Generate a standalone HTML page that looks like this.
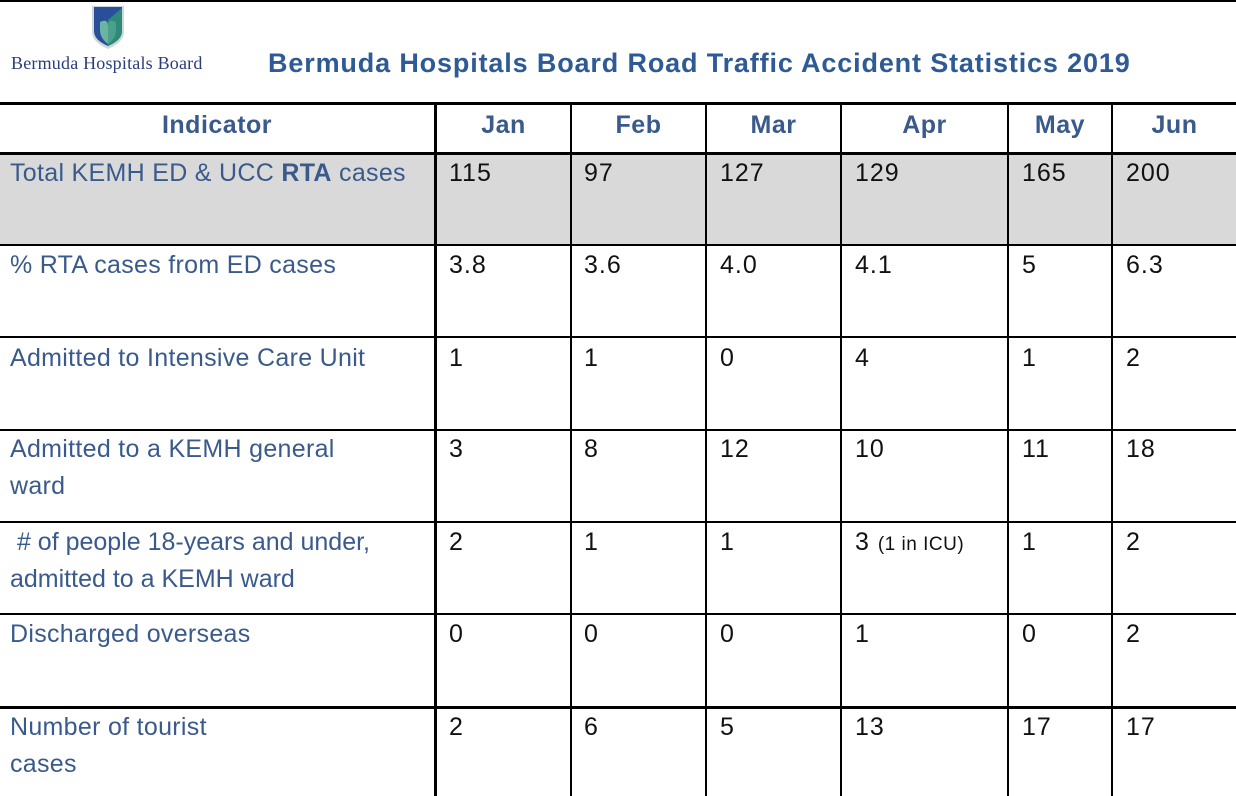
<!DOCTYPE html>
<html><head><meta charset="utf-8"><style>
body{margin:0;width:1236px;height:796px;background:#fff;position:relative;overflow:hidden;font-family:"Liberation Sans",sans-serif}
.a{position:absolute}
.h{position:absolute;background:#000}
.lab{position:absolute;left:10px;color:#3a5a8c;font-size:25px;line-height:37px;letter-spacing:0.3px;white-space:nowrap}
.v{position:absolute;color:#111;font-size:25px;line-height:37px;letter-spacing:1px}
.hd{position:absolute;top:106px;color:#3a5a8c;font-weight:bold;font-size:25px;line-height:38px;text-align:center;letter-spacing:0.5px}
</style></head><body>
<div class="h" style="left:0;top:0;width:1236px;height:2px"></div>
<svg class="a" style="left:90px;top:4px" width="36" height="46" viewBox="0 0 36 46">
<path d="M2 2 H34 V28 Q34 38 18 45 Q2 38 2 28Z" fill="#cfd6dc"/>
<path d="M4 3 H32 V27 Q32 36 18 42 Q4 36 4 27Z" fill="#2a4f9a"/>
<path d="M18 16 L32 4 V27 Q32 36 18 42Z" fill="#2e8a78"/>
<path d="M10 18 Q18 14 18 22 V40 Q10 34 10 26Z" fill="#6ab5a0"/>
<path d="M26 18 Q18 14 18 22 V40 Q26 34 26 26Z" fill="#4aa08a"/>
</svg>
<div class="a" style="left:11px;top:53px;font-family:'Liberation Serif',serif;font-size:18px;color:#2a3d7a;letter-spacing:0.2px">Bermuda Hospitals Board</div>
<div class="a" style="left:268px;top:48px;font-size:27px;font-weight:bold;color:#2e5a95;letter-spacing:0.85px;white-space:nowrap">Bermuda Hospitals Board Road Traffic Accident Statistics 2019</div>
<div class="a" style="left:0;top:153px;width:1236px;height:92px;background:#d9d9d9"></div>
<div class="h" style="left:0;top:102px;width:1236px;height:3px"></div>
<div class="h" style="left:0;top:152px;width:1236px;height:3px"></div>
<div class="h" style="left:0;top:244px;width:1236px;height:2px"></div>
<div class="h" style="left:0;top:336px;width:1236px;height:2px"></div>
<div class="h" style="left:0;top:429px;width:1236px;height:2px"></div>
<div class="h" style="left:0;top:521px;width:1236px;height:2px"></div>
<div class="h" style="left:0;top:613px;width:1236px;height:2px"></div>
<div class="h" style="left:0;top:706px;width:1236px;height:3px"></div>
<div class="h" style="left:434px;top:102px;width:3px;height:694px"></div>
<div class="h" style="left:570px;top:102px;width:2px;height:694px"></div>
<div class="h" style="left:705px;top:102px;width:2px;height:694px"></div>
<div class="h" style="left:840px;top:102px;width:2px;height:694px"></div>
<div class="h" style="left:1007px;top:102px;width:2px;height:694px"></div>
<div class="h" style="left:1111px;top:102px;width:2px;height:694px"></div>
<div class="hd" style="left:0;width:434px">Indicator</div>
<div class="hd" style="left:437px;width:133px">Jan</div>
<div class="hd" style="left:572px;width:133px">Feb</div>
<div class="hd" style="left:707px;width:133px">Mar</div>
<div class="hd" style="left:842px;width:165px">Apr</div>
<div class="hd" style="left:1009px;width:102px">May</div>
<div class="hd" style="left:1113px;width:123px">Jun</div>

<div class="lab" style="top:155px">Total KEMH ED &amp; UCC <b>RTA</b> cases</div>
<div class="lab" style="top:247px">% RTA cases from ED cases</div>
<div class="lab" style="top:340px">Admitted to Intensive Care Unit</div>
<div class="lab" style="top:431px">Admitted to a KEMH general<br>ward</div>
<div class="lab" style="top:524px;letter-spacing:0">&nbsp;# of people 18-years and under,<br>admitted to a KEMH ward</div>
<div class="lab" style="top:616px">Discharged overseas</div>
<div class="lab" style="top:709px">Number of tourist<br>cases</div>

<div class="v" style="left:449px;top:155px">115</div><div class="v" style="left:584px;top:155px">97</div><div class="v" style="left:720px;top:155px">127</div><div class="v" style="left:855px;top:155px">129</div><div class="v" style="left:1022px;top:155px">165</div><div class="v" style="left:1126px;top:155px">200</div>
<div class="v" style="left:449px;top:247px">3.8</div><div class="v" style="left:584px;top:247px">3.6</div><div class="v" style="left:720px;top:247px">4.0</div><div class="v" style="left:855px;top:247px">4.1</div><div class="v" style="left:1022px;top:247px">5</div><div class="v" style="left:1126px;top:247px">6.3</div>
<div class="v" style="left:449px;top:340px">1</div><div class="v" style="left:584px;top:340px">1</div><div class="v" style="left:720px;top:340px">0</div><div class="v" style="left:855px;top:340px">4</div><div class="v" style="left:1022px;top:340px">1</div><div class="v" style="left:1126px;top:340px">2</div>
<div class="v" style="left:449px;top:431px">3</div><div class="v" style="left:584px;top:431px">8</div><div class="v" style="left:720px;top:431px">12</div><div class="v" style="left:855px;top:431px">10</div><div class="v" style="left:1022px;top:431px">11</div><div class="v" style="left:1126px;top:431px">18</div>
<div class="v" style="left:449px;top:524px">2</div><div class="v" style="left:584px;top:524px">1</div><div class="v" style="left:720px;top:524px">1</div><div class="v" style="left:855px;top:524px">3 <span style="font-size:19px;letter-spacing:0.5px">(1 in ICU)</span></div><div class="v" style="left:1022px;top:524px">1</div><div class="v" style="left:1126px;top:524px">2</div>
<div class="v" style="left:449px;top:616px">0</div><div class="v" style="left:584px;top:616px">0</div><div class="v" style="left:720px;top:616px">0</div><div class="v" style="left:855px;top:616px">1</div><div class="v" style="left:1022px;top:616px">0</div><div class="v" style="left:1126px;top:616px">2</div>
<div class="v" style="left:449px;top:709px">2</div><div class="v" style="left:584px;top:709px">6</div><div class="v" style="left:720px;top:709px">5</div><div class="v" style="left:855px;top:709px">13</div><div class="v" style="left:1022px;top:709px">17</div><div class="v" style="left:1126px;top:709px">17</div>
</body></html>
